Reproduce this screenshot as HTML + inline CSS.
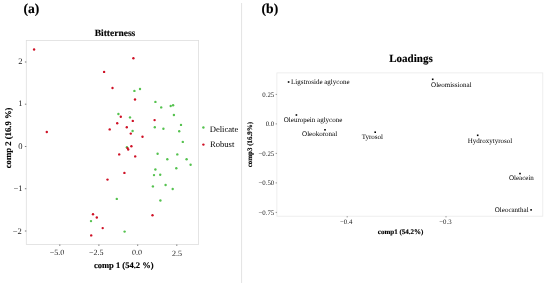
<!DOCTYPE html>
<html><head><meta charset="utf-8"><title>Figure</title>
<style>
html,body{margin:0;padding:0;background:#fff;}
svg{display:block;filter:blur(0.3px);text-rendering:geometricPrecision;font-family:"Liberation Serif","Times New Roman",serif;}
.b{font-weight:bold;stroke:#000;stroke-width:0.15px}
.n{}
</style></head><body>
<svg width="550" height="288" viewBox="0 0 550 288">
<rect width="550" height="288" fill="#fff"/>
<!-- divider -->
<line x1="241.6" y1="3" x2="241.6" y2="283" stroke="#e3e3e3" stroke-width="1"/>
<!-- panel a -->
<text class="b" x="23.5" y="12.6" font-size="13.6" fill="#000">(a)</text>
<text class="b" x="115" y="36" font-size="9.5" text-anchor="middle" fill="#000">Bitterness</text>
<rect x="26.3" y="40.4" width="172.3" height="204.1" fill="none" stroke="#dedede" stroke-width="0.8"/>
<g stroke="#444" stroke-width="0.7"><line x1="24.9" y1="62.0" x2="26.3" y2="62.0"/><line x1="24.9" y1="104.2" x2="26.3" y2="104.2"/><line x1="24.9" y1="146.5" x2="26.3" y2="146.5"/><line x1="24.9" y1="188.7" x2="26.3" y2="188.7"/><line x1="24.9" y1="231.0" x2="26.3" y2="231.0"/><line x1="59.8" y1="244.5" x2="59.8" y2="245.9"/><line x1="98.9" y1="244.5" x2="98.9" y2="245.9"/><line x1="137.7" y1="244.5" x2="137.7" y2="245.9"/><line x1="176.8" y1="244.5" x2="176.8" y2="245.9"/></g>
<g font-size="8.5" fill="#222" text-anchor="end"><text x="22.5" y="63.9">2</text><text x="22.5" y="105.8">1</text><text x="22.5" y="149.0">0</text><text x="22.5" y="191.0">−1</text><text x="21.8" y="233.5">−2</text></g>
<g font-size="8" fill="#222" text-anchor="middle">
<text x="57.1" y="254.5">−5.0</text><text x="96.2" y="254.5">−2.5</text><text x="137.1" y="254.6">0.0</text><text x="177" y="255.7">2.5</text>
</g>
<text class="b" x="94" y="268.2" font-size="8.5" fill="#000">comp 1 (54.2 %)</text>
<text class="b" transform="translate(10.5,137.9) rotate(-90)" text-anchor="middle" font-size="8.7" fill="#000">comp 2 (16.9 %)</text>
<g fill="#55c24f"><circle cx="134.4" cy="90.9" r="1.2"/><circle cx="140.0" cy="89.0" r="1.2"/><circle cx="118.4" cy="114.0" r="1.2"/><circle cx="130.0" cy="117.4" r="1.2"/><circle cx="155.4" cy="101.9" r="1.2"/><circle cx="161.2" cy="107.4" r="1.2"/><circle cx="170.7" cy="106.0" r="1.2"/><circle cx="173.1" cy="105.2" r="1.2"/><circle cx="173.9" cy="115.0" r="1.2"/><circle cx="132.6" cy="131.0" r="1.2"/><circle cx="154.8" cy="127.3" r="1.2"/><circle cx="163.4" cy="128.8" r="1.2"/><circle cx="181.0" cy="124.9" r="1.2"/><circle cx="179.2" cy="131.2" r="1.2"/><circle cx="182.8" cy="141.9" r="1.2"/><circle cx="126.9" cy="147.3" r="1.2"/><circle cx="157.6" cy="153.8" r="1.2"/><circle cx="177.3" cy="154.4" r="1.2"/><circle cx="167.3" cy="159.2" r="1.2"/><circle cx="186.6" cy="159.2" r="1.2"/><circle cx="190.6" cy="164.8" r="1.2"/><circle cx="176.3" cy="168.3" r="1.2"/><circle cx="155.4" cy="169.5" r="1.2"/><circle cx="154.0" cy="175.1" r="1.2"/><circle cx="160.2" cy="174.7" r="1.2"/><circle cx="165.6" cy="185.0" r="1.2"/><circle cx="152.9" cy="186.4" r="1.2"/><circle cx="172.7" cy="189.0" r="1.2"/><circle cx="116.8" cy="198.9" r="1.2"/><circle cx="160.4" cy="200.5" r="1.2"/><circle cx="91.0" cy="221.1" r="1.2"/><circle cx="124.6" cy="231.6" r="1.2"/></g>
<g fill="#cf1126"><circle cx="34.1" cy="49.5" r="1.2"/><circle cx="104.1" cy="71.9" r="1.2"/><circle cx="112.5" cy="88.0" r="1.2"/><circle cx="133.4" cy="58.2" r="1.2"/><circle cx="120.8" cy="116.7" r="1.2"/><circle cx="117.2" cy="123.3" r="1.2"/><circle cx="109.7" cy="129.4" r="1.2"/><circle cx="126.8" cy="127.3" r="1.2"/><circle cx="46.8" cy="132.0" r="1.2"/><circle cx="135.0" cy="99.5" r="1.2"/><circle cx="132.8" cy="120.9" r="1.2"/><circle cx="154.6" cy="120.1" r="1.2"/><circle cx="130.8" cy="133.6" r="1.2"/><circle cx="142.5" cy="136.8" r="1.2"/><circle cx="119.2" cy="154.4" r="1.2"/><circle cx="127.5" cy="148.1" r="1.2"/><circle cx="128.2" cy="149.5" r="1.2"/><circle cx="131.4" cy="146.3" r="1.2"/><circle cx="135.2" cy="156.4" r="1.2"/><circle cx="124.4" cy="172.9" r="1.2"/><circle cx="107.5" cy="179.6" r="1.2"/><circle cx="93.0" cy="214.2" r="1.2"/><circle cx="96.8" cy="217.5" r="1.2"/><circle cx="102.7" cy="228.1" r="1.2"/><circle cx="91.2" cy="235.4" r="1.2"/><circle cx="152.5" cy="215.2" r="1.2"/></g>
<circle cx="203.4" cy="127.5" r="1.2" fill="#55c24f"/><circle cx="203.4" cy="144.6" r="1.2" fill="#cf1126"/>
<g class="n" font-size="8.6" fill="#000"><text x="209.7" y="131.8">Delicate</text><text x="210" y="146.6">Robust</text></g>
<!-- panel b -->
<text class="b" x="261.6" y="12.7" font-size="13.6" fill="#000">(b)</text>
<text class="b" x="411" y="62.2" font-size="11" text-anchor="middle" fill="#000">Loadings</text>
<rect x="276.9" y="72.9" width="265.9" height="143.3" fill="none" stroke="#e9e9e9" stroke-width="0.8"/>
<g stroke="#444" stroke-width="0.6"><line x1="275.7" y1="94.4" x2="276.9" y2="94.4"/><line x1="275.7" y1="123.9" x2="276.9" y2="123.9"/><line x1="275.7" y1="153.4" x2="276.9" y2="153.4"/><line x1="275.7" y1="182.9" x2="276.9" y2="182.9"/><line x1="275.7" y1="212.4" x2="276.9" y2="212.4"/>
<line x1="347.2" y1="216.2" x2="347.2" y2="217.4"/><line x1="446" y1="216.2" x2="446" y2="217.4"/>
</g>
<g font-size="6.8" fill="#222" text-anchor="end"><text x="274.2" y="96.8">0.25</text><text x="274.2" y="126.3">0.0</text><text x="274.2" y="155.8">−0.25</text><text x="274.2" y="185.3">−0.50</text><text x="274.2" y="214.8">−0.75</text></g>
<g font-size="6.8" fill="#222" text-anchor="middle">
<text x="346.2" y="223.6">−0.4</text><text x="445.4" y="223.6">−0.3</text>
</g>
<text class="b" x="400.6" y="233.6" font-size="7" text-anchor="middle" fill="#000">comp1 (54.2%)</text>
<text class="b" transform="translate(252.1,144.6) rotate(-90)" text-anchor="middle" font-size="7" fill="#000">comp3 (16.9%)</text>
<g fill="#000"><rect x="287.80" y="81.20" width="1.6" height="1.6"/><rect x="431.90" y="78.50" width="1.6" height="1.6"/><rect x="295.60" y="114.20" width="1.6" height="1.6"/><rect x="324.20" y="129.00" width="1.6" height="1.6"/><rect x="374.40" y="131.40" width="1.6" height="1.6"/><rect x="476.90" y="134.50" width="1.6" height="1.6"/><rect x="519.20" y="172.80" width="1.6" height="1.6"/><rect x="530.30" y="209.10" width="1.6" height="1.6"/></g>
<g class="n" font-size="7" fill="#000">
<text x="291" y="83.6">Ligstroside aglycone</text>
<text x="431.1" y="86.5">Oleomissional</text>
<text x="283.8" y="121.8">Oleuropein aglycone</text>
<text x="302.1" y="135.9">Oleokoronal</text>
<text x="361.7" y="139.3">Tyrosol</text>
<text x="467.8" y="142.7">Hydroxytyrosol</text>
<text x="509" y="180.3">Oleacein</text>
<text x="494.8" y="211.6">Oleocanthal</text>
</g>
</svg>
</body></html>
